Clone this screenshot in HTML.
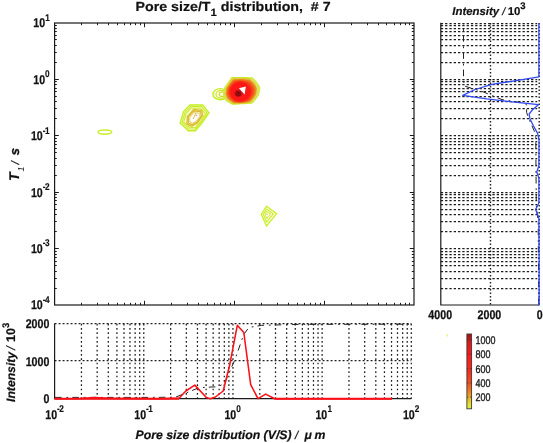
<!DOCTYPE html>
<html lang="en"><head><meta charset="utf-8"><title>Pore size/T1 distribution, # 7</title>
<style>html,body{margin:0;padding:0;background:#fff;}body{width:543px;height:443px;overflow:hidden;}svg{display:block;}text{font-family:"Liberation Sans",sans-serif;fill:#111;stroke:#111;stroke-width:0.2px;text-rendering:geometricPrecision;}.tk{font-size:12.7px;font-weight:bold;stroke-width:0.25px;}.sup{font-size:9.8px;font-weight:bold;stroke-width:0.15px;}.ax{stroke:#1a1a1a;stroke-width:1.2;fill:none;}.t{stroke:#1a1a1a;stroke-width:1;fill:none;}.gv{stroke:#1c1c1c;stroke-width:1.25;fill:none;stroke-dasharray:1.7 2.63;}.gv2{stroke:#1c1c1c;stroke-width:1.4;fill:none;stroke-dasharray:1.6 1.9;}.gh{stroke:#1c1c1c;stroke-width:1.25;fill:none;stroke-dasharray:1.9 2.1;}.gh2{stroke:#1c1c1c;stroke-width:1.25;fill:none;stroke-dasharray:2.3 2;}.dd{stroke:#222;stroke-width:1;fill:none;stroke-dasharray:6.6 4.8 1.8 4.1;}</style></head><body>
<svg width="543" height="443" viewBox="0 0 543 443">
<defs>
<linearGradient id="cb" x1="0" y1="0" x2="0" y2="1"><stop offset="0" stop-color="#a01212"/><stop offset="0.12" stop-color="#e01818"/><stop offset="0.3" stop-color="#ff1818"/><stop offset="0.5" stop-color="#fb2a1c"/><stop offset="0.66" stop-color="#f2501e"/><stop offset="0.78" stop-color="#ee8422"/><stop offset="0.86" stop-color="#e8b424"/><stop offset="0.94" stop-color="#e8e02c"/><stop offset="1" stop-color="#d8f040"/></linearGradient>
<filter id="b1" x="-20%" y="-20%" width="140%" height="140%"><feGaussianBlur stdDeviation="0.36"/></filter>
</defs>
<rect x="0" y="0" width="543" height="443" fill="#fff"/>
<text transform="translate(135.5,11.3) scale(1.078,1)" x="0" y="0" style="font-size:13.2px;font-weight:bold;" xml:space="preserve">Pore size/T<tspan dy="4.4" style="font-size:10.5px">1</tspan><tspan dy="-4.4"> distribution,  # 7</tspan></text>
<g filter="url(#b1)">
<ellipse cx="220.3" cy="94.2" rx="7.3" ry="5.6" fill="#fafde0" stroke="#c4ee24" stroke-width="1.45"/>
<ellipse cx="221.3" cy="94.2" rx="5.3" ry="3.9" fill="none" stroke="#cce830" stroke-width="1.25"/>
<ellipse cx="222.5" cy="94.2" rx="3.3" ry="2.3" fill="none" stroke="#d8d440" stroke-width="1.1"/>
<polygon points="259.1,91.7 258.8,93.3 258.4,94.9 257.6,96.3 256.5,97.6 255.6,98.8 254.7,100.0 253.8,101.1 252.9,102.3 251.7,103.1 250.0,103.2 248.4,103.3 247.1,103.4 245.8,103.5 244.6,103.6 243.5,103.6 242.4,103.7 241.4,103.8 240.3,103.8 239.2,103.9 238.1,103.9 237.0,104.0 235.8,104.1 234.5,104.2 233.1,104.3 231.7,103.9 230.6,103.2 229.5,102.5 228.3,101.8 227.0,101.0 225.7,100.1 225.1,98.8 224.6,97.4 224.0,96.1 223.5,94.7 223.7,93.2 224.0,91.7 224.2,90.3 224.5,88.9 224.8,87.5 225.6,86.4 226.4,85.2 227.2,84.1 227.9,83.0 228.7,82.0 229.5,80.9 230.2,79.7 231.1,78.5 232.1,77.5 233.7,77.5 235.1,77.5 236.5,77.5 237.8,77.6 239.1,77.6 240.3,77.6 241.5,77.6 242.8,77.6 244.1,77.6 245.4,77.6 246.9,77.6 248.4,77.7 250.1,77.7 252.0,77.7 253.2,78.8 254.4,79.9 255.5,81.1 256.6,82.3 257.5,83.7 258.4,85.1 259.3,86.6 259.9,88.2 259.5,90.0" fill="#f4f8c8" stroke="#c6ee28" stroke-width="1.1" stroke-linejoin="round"/>
<polygon points="257.8,91.7 257.5,93.2 257.1,94.7 256.4,96.0 255.5,97.2 254.6,98.4 253.8,99.5 252.9,100.5 252.1,101.6 251.0,102.4 249.4,102.6 248.0,102.7 246.7,102.9 245.6,103.0 244.4,103.1 243.4,103.2 242.3,103.3 241.3,103.3 240.3,103.4 239.3,103.4 238.2,103.5 237.1,103.5 236.0,103.5 234.8,103.6 233.4,103.6 232.2,103.3 231.2,102.6 230.1,101.9 229.0,101.2 227.8,100.4 226.6,99.6 226.1,98.3 225.6,97.1 225.1,95.8 224.5,94.5 224.7,93.1 224.9,91.7 225.2,90.4 225.4,89.1 225.7,87.8 226.4,86.7 227.2,85.6 227.9,84.5 228.6,83.5 229.3,82.5 230.1,81.5 230.8,80.4 231.7,79.4 232.6,78.4 234.1,78.4 235.4,78.4 236.7,78.3 237.9,78.3 239.1,78.3 240.3,78.3 241.5,78.3 242.7,78.4 243.9,78.4 245.1,78.4 246.5,78.5 247.9,78.6 249.5,78.6 251.2,78.7 252.3,79.7 253.3,80.8 254.4,81.8 255.4,83.0 256.2,84.3 257.1,85.6 257.9,87.0 258.4,88.5 258.1,90.1" fill="none" stroke="#d8d830" stroke-width="1.1" stroke-linejoin="round"/>
<polygon points="256.5,91.7 256.2,93.1 256.0,94.5 255.3,95.7 254.5,96.9 253.7,97.9 252.9,99.0 252.1,100.0 251.3,101.0 250.4,101.8 248.9,102.0 247.6,102.2 246.5,102.4 245.3,102.5 244.3,102.6 243.3,102.8 242.3,102.8 241.3,102.9 240.3,103.0 239.3,103.0 238.3,103.0 237.3,103.0 236.2,103.0 235.0,103.0 233.8,103.0 232.7,102.6 231.7,102.0 230.7,101.3 229.6,100.6 228.6,99.9 227.5,99.1 227.0,97.9 226.5,96.7 226.0,95.5 225.6,94.3 225.7,93.0 225.9,91.7 226.1,90.5 226.3,89.2 226.6,88.0 227.2,86.9 227.9,85.9 228.6,84.9 229.2,84.0 229.9,83.0 230.7,82.1 231.4,81.1 232.2,80.1 233.1,79.3 234.5,79.2 235.7,79.1 236.9,79.1 238.1,79.0 239.2,79.0 240.3,79.0 241.4,79.0 242.5,79.1 243.7,79.1 244.9,79.2 246.1,79.3 247.4,79.4 248.8,79.5 250.4,79.7 251.4,80.6 252.4,81.5 253.4,82.6 254.3,83.6 255.1,84.8 255.8,86.1 256.5,87.3 257.0,88.8 256.8,90.3" fill="#e4a826" stroke="#e4a826" stroke-width="0.7" stroke-linejoin="round"/>
<polygon points="255.3,91.7 255.1,93.0 254.9,94.3 254.3,95.4 253.6,96.5 252.9,97.6 252.1,98.5 251.4,99.5 250.7,100.4 249.7,101.1 248.5,101.4 247.3,101.7 246.2,101.9 245.1,102.1 244.1,102.2 243.2,102.4 242.2,102.5 241.2,102.5 240.3,102.6 239.3,102.6 238.4,102.6 237.4,102.6 236.4,102.5 235.3,102.5 234.1,102.4 233.1,102.0 232.1,101.4 231.2,100.8 230.3,100.1 229.3,99.4 228.3,98.6 227.8,97.5 227.3,96.4 226.9,95.3 226.5,94.1 226.6,92.9 226.7,91.7 226.9,90.5 227.1,89.4 227.3,88.2 227.9,87.2 228.6,86.2 229.2,85.3 229.8,84.4 230.5,83.5 231.2,82.6 231.9,81.7 232.7,80.8 233.6,80.1 234.8,79.9 236.0,79.8 237.1,79.7 238.2,79.7 239.2,79.7 240.3,79.6 241.4,79.7 242.4,79.7 243.5,79.8 244.6,79.9 245.8,80.0 247.0,80.2 248.3,80.3 249.7,80.5 250.6,81.4 251.5,82.3 252.4,83.2 253.3,84.2 254.0,85.3 254.6,86.5 255.3,87.7 255.7,89.0 255.5,90.4" fill="#ea8420" stroke="#ea8420" stroke-width="0.7" stroke-linejoin="round"/>
<polygon points="254.2,91.7 254.1,92.9 253.8,94.1 253.3,95.2 252.7,96.2 252.1,97.2 251.4,98.1 250.7,99.0 250.0,99.9 249.2,100.6 248.0,100.9 247.0,101.2 245.9,101.5 245.0,101.7 244.0,101.9 243.1,102.0 242.1,102.1 241.2,102.2 240.3,102.2 239.4,102.3 238.4,102.2 237.5,102.2 236.5,102.1 235.5,102.0 234.4,101.8 233.4,101.5 232.6,100.9 231.7,100.3 230.8,99.7 229.9,99.0 229.1,98.2 228.6,97.2 228.1,96.1 227.7,95.1 227.4,94.0 227.4,92.8 227.5,91.7 227.6,90.6 227.8,89.5 228.1,88.4 228.6,87.4 229.2,86.5 229.8,85.6 230.4,84.7 231.0,83.9 231.7,83.1 232.4,82.3 233.2,81.5 234.0,80.8 235.1,80.6 236.2,80.5 237.3,80.4 238.3,80.3 239.3,80.2 240.3,80.2 241.3,80.3 242.3,80.3 243.3,80.4 244.4,80.5 245.4,80.7 246.5,80.9 247.7,81.1 249.0,81.4 249.9,82.1 250.7,83.0 251.5,83.8 252.3,84.8 253.0,85.8 253.6,86.9 254.1,88.0 254.5,89.2 254.4,90.5" fill="#ee681e" stroke="#ee681e" stroke-width="0.7" stroke-linejoin="round"/>
<polygon points="253.2,91.7 253.0,92.8 252.8,93.9 252.4,94.9 251.9,95.9 251.3,96.8 250.7,97.7 250.1,98.5 249.4,99.3 248.6,100.0 247.6,100.4 246.6,100.7 245.7,101.0 244.8,101.3 243.9,101.5 243.0,101.6 242.1,101.8 241.2,101.8 240.3,101.9 239.4,101.9 238.5,101.9 237.6,101.8 236.7,101.7 235.7,101.5 234.8,101.3 233.8,100.9 233.0,100.4 232.2,99.8 231.4,99.2 230.6,98.5 229.8,97.8 229.3,96.8 228.9,95.8 228.5,94.8 228.2,93.8 228.2,92.8 228.3,91.7 228.4,90.7 228.6,89.6 228.8,88.6 229.3,87.7 229.8,86.8 230.3,85.9 230.9,85.1 231.5,84.3 232.2,83.6 232.9,82.9 233.6,82.1 234.4,81.5 235.5,81.3 236.5,81.1 237.4,81.0 238.4,80.9 239.4,80.8 240.3,80.8 241.2,80.9 242.2,80.9 243.2,81.0 244.1,81.2 245.1,81.4 246.1,81.6 247.2,81.9 248.3,82.2 249.1,82.9 249.9,83.6 250.6,84.5 251.4,85.3 251.9,86.3 252.5,87.3 253.0,88.3 253.3,89.4 253.3,90.6" fill="#f2501c" stroke="#f2501c" stroke-width="0.7" stroke-linejoin="round"/>
<polygon points="252.1,91.7 252.0,92.7 251.8,93.7 251.4,94.7 251.0,95.6 250.5,96.5 250.0,97.3 249.4,98.1 248.8,98.8 248.0,99.4 247.2,99.9 246.3,100.3 245.4,100.6 244.6,100.9 243.7,101.1 242.9,101.3 242.0,101.4 241.2,101.5 240.3,101.5 239.4,101.5 238.6,101.5 237.7,101.4 236.8,101.2 236.0,101.0 235.1,100.8 234.2,100.4 233.4,99.9 232.7,99.3 232.0,98.7 231.2,98.0 230.6,97.3 230.1,96.4 229.7,95.6 229.4,94.6 229.1,93.7 229.0,92.7 229.1,91.7 229.2,90.7 229.3,89.8 229.5,88.8 229.9,87.9 230.4,87.1 230.9,86.3 231.5,85.5 232.0,84.8 232.7,84.1 233.4,83.4 234.1,82.8 234.9,82.3 235.8,82.0 236.7,81.8 237.6,81.6 238.5,81.5 239.4,81.4 240.3,81.4 241.2,81.4 242.1,81.5 243.0,81.6 243.9,81.8 244.8,82.0 245.7,82.3 246.7,82.6 247.6,83.0 248.4,83.6 249.1,84.3 249.8,85.1 250.4,85.9 250.9,86.7 251.4,87.7 251.8,88.6 252.1,89.6 252.1,90.7" fill="#f63c1a" stroke="#f63c1a" stroke-width="0.7" stroke-linejoin="round"/>
<polygon points="251.0,91.7 250.9,92.6 250.8,93.5 250.5,94.4 250.1,95.3 249.7,96.1 249.2,96.9 248.7,97.6 248.1,98.3 247.5,98.9 246.7,99.4 246.0,99.8 245.2,100.2 244.4,100.5 243.6,100.7 242.8,100.9 242.0,101.1 241.1,101.2 240.3,101.2 239.5,101.2 238.6,101.1 237.8,101.0 237.0,100.8 236.2,100.5 235.4,100.2 234.6,99.8 233.9,99.4 233.2,98.8 232.5,98.2 231.9,97.6 231.3,96.9 230.9,96.1 230.5,95.3 230.2,94.4 229.9,93.5 229.9,92.6 229.8,91.7 229.9,90.8 230.1,89.9 230.3,89.0 230.6,88.2 231.0,87.4 231.5,86.6 232.0,85.9 232.6,85.2 233.2,84.6 233.8,84.0 234.5,83.5 235.3,83.0 236.1,82.7 236.9,82.4 237.8,82.3 238.6,82.1 239.5,82.0 240.3,82.0 241.1,82.0 242.0,82.1 242.8,82.3 243.7,82.5 244.5,82.7 245.3,83.0 246.1,83.4 246.9,83.8 247.6,84.4 248.3,85.0 248.9,85.7 249.4,86.4 249.9,87.2 250.3,88.0 250.7,88.9 250.9,89.8 251.0,90.8" fill="#fb2818" stroke="#fb2818" stroke-width="0.7" stroke-linejoin="round"/>
<polygon points="250.1,91.7 250.1,92.6 249.9,93.4 249.7,94.2 249.4,95.0 249.1,95.8 248.6,96.5 248.2,97.2 247.6,97.8 247.0,98.4 246.4,98.9 245.7,99.4 245.0,99.8 244.2,100.1 243.5,100.4 242.7,100.6 241.9,100.8 241.1,100.9 240.3,100.9 239.5,100.9 238.7,100.8 237.9,100.6 237.1,100.4 236.4,100.1 235.6,99.8 234.9,99.4 234.2,98.9 233.6,98.4 233.0,97.8 232.4,97.2 232.0,96.5 231.5,95.8 231.2,95.0 230.9,94.2 230.7,93.4 230.5,92.6 230.5,91.7 230.5,90.8 230.7,90.0 230.9,89.2 231.2,88.4 231.5,87.6 232.0,86.9 232.4,86.2 233.0,85.6 233.6,85.0 234.2,84.5 234.9,84.0 235.6,83.6 236.4,83.3 237.1,83.0 237.9,82.8 238.7,82.6 239.5,82.5 240.3,82.5 241.1,82.5 241.9,82.6 242.7,82.8 243.5,83.0 244.2,83.3 245.0,83.6 245.7,84.0 246.4,84.5 247.0,85.0 247.6,85.6 248.2,86.2 248.6,86.9 249.1,87.6 249.4,88.4 249.7,89.2 249.9,90.0 250.1,90.8" fill="#ff1816" stroke="#ff1816" stroke-width="0.7" stroke-linejoin="round"/>
<ellipse cx="238.6" cy="93.2" rx="4.2" ry="3.6" fill="#d01212"/><circle cx="238.2" cy="93.8" r="2.7" fill="#8a0e0e"/>
<polygon points="238.9,88.2 245.8,86.4 244.6,94.5" fill="#fff"/>
</g>
<g filter="url(#b1)" fill="none">
<polygon points="190.0,105.0 202.7,105.0 209.0,112.7 202.7,122.2 195.5,130.7 188.2,130.7 180.1,123.0 183.7,111.3" stroke="#c4ee24" stroke-width="1.35" fill="#f8fcd8"/>
<polygon points="190.6,106.7 201.6,106.7 207.1,113.4 201.6,121.7 195.4,129.0 189.0,129.0 182.0,122.3 185.1,112.2" stroke="#caee2c" stroke-width="1.2"/>
<polygon points="191.1,108.2 200.6,108.2 205.4,114.0 200.6,121.2 195.2,127.5 189.8,127.5 183.7,121.8 186.4,113.0" stroke="#d2e838" stroke-width="1.1"/>
<polygon points="193.7,109.5 201.8,110.4 202.7,115.4 197.3,123.0 191.9,126.2 186.9,124.0 187.3,116.8" stroke="#dac030" stroke-width="1.3" fill="#f8efc0"/>
<polygon points="193.8,110.9 200.6,111.7 201.3,115.8 196.8,122.2 192.3,124.8 188.2,123.0 188.5,117.0" stroke="#dab82c" stroke-width="1.1"/>
<polygon points="194.0,112.7 199.0,113.3 199.6,116.4 196.2,121.1 192.9,123.1 189.8,121.7 190.0,117.3" stroke="#e2cc5c" stroke-width="0.8" fill="#fff"/>
<path d="M193.2,119 L195.8,113" stroke="#e0c24a" stroke-width="1"/>
<circle cx="196.4" cy="115.4" r="0.8" fill="#f0a090" stroke="none"/>
</g>
<g filter="url(#b1)" fill="none"><ellipse cx="104.9" cy="132.1" rx="6.8" ry="2.1" stroke="#c8ee28" stroke-width="1.4"/></g>
<g filter="url(#b1)" fill="none">
<polygon points="266.5,206.3 276.6,213.7 266.5,225.9 261.4,214.2" stroke="#c8f028" stroke-width="1.35"/>
<polygon points="266.7,209.0 273.3,213.9 266.7,222.0 263.3,214.2" stroke="#ccf030" stroke-width="1.2"/>
<polygon points="266.8,211.4 270.5,214.1 266.8,218.5 265.0,214.3" stroke="#d6ea3c" stroke-width="1.1"/>
<circle cx="267" cy="214.2" r="0.8" fill="#e8c040" stroke="none"/>
</g>
<rect class="ax" x="54.6" y="23.0" width="359.4" height="282.0"/>
<path class="t" d="M81.50,305.0v-2.2M81.50,23.0v2.2M97.50,305.0v-2.2M97.50,23.0v2.2M108.50,305.0v-2.2M108.50,23.0v2.2M117.50,305.0v-2.2M117.50,23.0v2.2M124.50,305.0v-2.2M124.50,23.0v2.2M130.50,305.0v-2.2M130.50,23.0v2.2M135.50,305.0v-2.2M135.50,23.0v2.2M140.50,305.0v-2.2M140.50,23.0v2.2M144.50,305.0v-4.2M144.50,23.0v4.2M171.50,305.0v-2.2M171.50,23.0v2.2M187.50,305.0v-2.2M187.50,23.0v2.2M198.50,305.0v-2.2M198.50,23.0v2.2M207.50,305.0v-2.2M207.50,23.0v2.2M214.50,305.0v-2.2M214.50,23.0v2.2M220.50,305.0v-2.2M220.50,23.0v2.2M225.50,305.0v-2.2M225.50,23.0v2.2M230.50,305.0v-2.2M230.50,23.0v2.2M234.50,305.0v-4.2M234.50,23.0v4.2M261.50,305.0v-2.2M261.50,23.0v2.2M277.50,305.0v-2.2M277.50,23.0v2.2M288.50,305.0v-2.2M288.50,23.0v2.2M297.50,305.0v-2.2M297.50,23.0v2.2M304.50,305.0v-2.2M304.50,23.0v2.2M310.50,305.0v-2.2M310.50,23.0v2.2M315.50,305.0v-2.2M315.50,23.0v2.2M320.50,305.0v-2.2M320.50,23.0v2.2M324.50,305.0v-4.2M324.50,23.0v4.2M351.50,305.0v-2.2M351.50,23.0v2.2M367.50,305.0v-2.2M367.50,23.0v2.2M378.50,305.0v-2.2M378.50,23.0v2.2M386.50,305.0v-2.2M386.50,23.0v2.2M394.50,305.0v-2.2M394.50,23.0v2.2M400.50,305.0v-2.2M400.50,23.0v2.2M405.50,305.0v-2.2M405.50,23.0v2.2M409.50,305.0v-2.2M409.50,23.0v2.2M54.6,288.50h2.2M414.0,288.50h-2.2M54.6,278.50h2.2M414.0,278.50h-2.2M54.6,271.50h2.2M414.0,271.50h-2.2M54.6,265.50h2.2M414.0,265.50h-2.2M54.6,261.50h2.2M414.0,261.50h-2.2M54.6,257.50h2.2M414.0,257.50h-2.2M54.6,254.50h2.2M414.0,254.50h-2.2M54.6,251.50h2.2M414.0,251.50h-2.2M54.6,248.50h4.2M414.0,248.50h-4.2M54.6,231.50h2.2M414.0,231.50h-2.2M54.6,221.50h2.2M414.0,221.50h-2.2M54.6,214.50h2.2M414.0,214.50h-2.2M54.6,209.50h2.2M414.0,209.50h-2.2M54.6,204.50h2.2M414.0,204.50h-2.2M54.6,200.50h2.2M414.0,200.50h-2.2M54.6,197.50h2.2M414.0,197.50h-2.2M54.6,194.50h2.2M414.0,194.50h-2.2M54.6,192.50h4.2M414.0,192.50h-4.2M54.6,175.50h2.2M414.0,175.50h-2.2M54.6,165.50h2.2M414.0,165.50h-2.2M54.6,158.50h2.2M414.0,158.50h-2.2M54.6,152.50h2.2M414.0,152.50h-2.2M54.6,148.50h2.2M414.0,148.50h-2.2M54.6,144.50h2.2M414.0,144.50h-2.2M54.6,141.50h2.2M414.0,141.50h-2.2M54.6,138.50h2.2M414.0,138.50h-2.2M54.6,135.50h4.2M414.0,135.50h-4.2M54.6,118.50h2.2M414.0,118.50h-2.2M54.6,108.50h2.2M414.0,108.50h-2.2M54.6,101.50h2.2M414.0,101.50h-2.2M54.6,96.50h2.2M414.0,96.50h-2.2M54.6,91.50h2.2M414.0,91.50h-2.2M54.6,88.50h2.2M414.0,88.50h-2.2M54.6,84.50h2.2M414.0,84.50h-2.2M54.6,81.50h2.2M414.0,81.50h-2.2M54.6,79.50h4.2M414.0,79.50h-4.2M54.6,62.50h2.2M414.0,62.50h-2.2M54.6,52.50h2.2M414.0,52.50h-2.2M54.6,45.50h2.2M414.0,45.50h-2.2M54.6,39.50h2.2M414.0,39.50h-2.2M54.6,35.50h2.2M414.0,35.50h-2.2M54.6,31.50h2.2M414.0,31.50h-2.2M54.6,28.50h2.2M414.0,28.50h-2.2M54.6,25.50h2.2M414.0,25.50h-2.2"/>
<text class="tk" transform="translate(45.1,27.3) scale(0.84,1)" text-anchor="end">10</text><text class="sup" transform="translate(45.3,20.7) scale(0.84,1)">1</text>
<text class="tk" transform="translate(45.1,83.7) scale(0.84,1)" text-anchor="end">10</text><text class="sup" transform="translate(45.1,77.1) scale(0.84,1)">0</text>
<text class="tk" transform="translate(42.8,140.1) scale(0.84,1)" text-anchor="end">10</text><text class="sup" transform="translate(42.8,133.5) scale(0.84,1)" letter-spacing="-0.6">-1</text>
<text class="tk" transform="translate(42.8,196.5) scale(0.84,1)" text-anchor="end">10</text><text class="sup" transform="translate(42.8,189.9) scale(0.84,1)" letter-spacing="-0.6">-2</text>
<text class="tk" transform="translate(42.8,252.9) scale(0.84,1)" text-anchor="end">10</text><text class="sup" transform="translate(42.8,246.3) scale(0.84,1)" letter-spacing="-0.6">-3</text>
<text class="tk" transform="translate(42.8,309.3) scale(0.84,1)" text-anchor="end">10</text><text class="sup" transform="translate(42.8,302.7) scale(0.84,1)" letter-spacing="-0.6">-4</text>
<text transform="translate(18.6,181.1) rotate(-90)" style="font-size:14px;font-weight:bold;font-style:italic;" xml:space="preserve">T<tspan x="9.6" dy="5.7" style="font-size:8.8px;font-weight:normal;stroke:none">1</tspan><tspan x="16.9" dy="-5.7" style="font-size:11px;font-weight:normal">/</tspan><tspan x="25.8" style="font-size:13px;stroke-width:0.35px">s</tspan></text>
<path class="gv" d="M81.44,323.7V398.7M97.15,323.7V398.7M108.29,323.7V398.7M116.93,323.7V398.7M123.99,323.7V398.7M129.96,323.7V398.7M135.13,323.7V398.7M139.69,323.7V398.7M143.78,323.7V398.7M170.62,323.7V398.7M186.32,323.7V398.7M197.46,323.7V398.7M206.11,323.7V398.7M213.17,323.7V398.7M219.14,323.7V398.7M224.31,323.7V398.7M228.87,323.7V398.7M232.95,323.7V398.7M259.79,323.7V398.7M275.50,323.7V398.7M286.64,323.7V398.7M295.28,323.7V398.7M302.34,323.7V398.7M308.31,323.7V398.7M313.48,323.7V398.7M318.04,323.7V398.7M322.12,323.7V398.7M348.97,323.7V398.7M364.67,323.7V398.7M375.81,323.7V398.7M384.46,323.7V398.7M391.52,323.7V398.7M397.49,323.7V398.7M402.66,323.7V398.7M407.22,323.7V398.7M411.30,323.7V398.7"/>
<path class="gh" d="M54.6,323.7H411.3M54.6,360.6H411.3"/>
<path class="ax" d="M54.6,323.4V398.7H411.3"/>
<polyline class="dd" points="55.0,397.4 150.0,397.4 175.5,397.2 191.0,391.0 198.7,387.7 218.0,386.7 224.5,383.3 234.8,360.0 243.8,334.3 249.0,327.4 261.8,325.3 299.0,324.4 411.0,324.2"/>
<polyline points="54.6,398.7 80.0,398.4 95.0,397.6 110.0,398.3 160.0,398.7 179.3,398.0 185.8,391.0 194.8,385.1 206.4,397.5 210.3,398.7 215.4,397.0 223.2,391.0 229.6,365.3 237.3,325.3 243.8,332.5 250.7,384.6 258.0,398.7 265.7,394.1 274.7,398.7 392.0,398.7" fill="none" stroke="#fb1018" stroke-width="1.55" stroke-linejoin="round"/>
<path d="M54.6,398.7H179M274.7,398.7H392" stroke="#fb1018" stroke-width="2" fill="none"/>
<text class="tk" transform="translate(49.4,328.3) scale(0.84,1)" text-anchor="end">2000</text>
<text class="tk" transform="translate(49.4,365.8) scale(0.84,1)" text-anchor="end">1000</text>
<text class="tk" transform="translate(49.4,403.3) scale(0.84,1)" text-anchor="end">0</text>
<text class="tk" transform="translate(57.1,418.5) scale(0.84,1)" text-anchor="end">10</text><text class="sup" transform="translate(57.1,411.9) scale(0.84,1)" letter-spacing="-0.6">-2</text>
<text class="tk" transform="translate(146.1,418.5) scale(0.84,1)" text-anchor="end">10</text><text class="sup" transform="translate(146.1,411.9) scale(0.84,1)" letter-spacing="-0.6">-1</text>
<text class="tk" transform="translate(236.3,418.5) scale(0.84,1)" text-anchor="end">10</text><text class="sup" transform="translate(236.3,411.9) scale(0.84,1)">0</text>
<text class="tk" transform="translate(327.3,418.5) scale(0.84,1)" text-anchor="end">10</text><text class="sup" transform="translate(327.5,411.9) scale(0.84,1)">1</text>
<text class="tk" transform="translate(414.8,418.5) scale(0.84,1)" text-anchor="end">10</text><text class="sup" transform="translate(414.8,411.9) scale(0.84,1)">2</text>
<text transform="translate(15.2,402) rotate(-90)" style="font-size:12.2px;font-weight:bold;font-style:italic;" xml:space="preserve">Intensity<tspan dx="2.2" style="font-weight:normal">/</tspan><tspan dx="4.4" style="font-style:normal;font-size:12.6px">10</tspan><tspan dy="-6.4" style="font-size:9.5px;font-style:normal">3</tspan></text>
<text x="135.5" y="438.8" style="font-size:12.27px;font-weight:bold;font-style:italic;" xml:space="preserve">Pore size distribution (V/S) <tspan style="font-weight:normal;font-size:11.5px">/</tspan><tspan dx="6.4">μ</tspan><tspan dx="2.6">m</tspan></text>
<path class="gh2" d="M440.8,288.50H537.2M440.8,278.50H537.2M440.8,271.50H537.2M440.8,265.50H537.2M440.8,261.50H537.2M440.8,257.50H537.2M440.8,254.50H537.2M440.8,251.50H537.2M440.8,248.50H537.2M440.8,231.50H537.2M440.8,221.50H537.2M440.8,214.50H537.2M440.8,209.50H537.2M440.8,204.50H537.2M440.8,200.50H537.2M440.8,197.50H537.2M440.8,194.50H537.2M440.8,192.50H537.2M440.8,175.50H537.2M440.8,165.50H537.2M440.8,158.50H537.2M440.8,152.50H537.2M440.8,148.50H537.2M440.8,144.50H537.2M440.8,141.50H537.2M440.8,138.50H537.2M440.8,135.50H537.2M440.8,118.50H537.2M440.8,108.50H537.2M440.8,101.50H537.2M440.8,96.50H537.2M440.8,91.50H537.2M440.8,88.50H537.2M440.8,84.50H537.2M440.8,81.50H537.2M440.8,79.50H537.2M440.8,62.50H537.2M440.8,52.50H537.2M440.8,45.50H537.2M440.8,39.50H537.2M440.8,35.50H537.2M440.8,31.50H537.2M440.8,28.50H537.2M440.8,25.50H537.2M440.8,23.50H537.2"/>
<path class="gv2" d="M490.5,23.0V305.0M539.2,23.0V305.0"/>
<path class="ax" d="M440.8,22.7V305.0H539.2"/>
<polyline class="dd" stroke-dashoffset="5.3" points="463.5,23.0 463.5,80.0 464.3,86.0 470.0,87.8 483.5,92.0 502.0,99.6 520.7,102.5 526.6,104.7 526.6,112.3 528.3,117.4 534.2,130.9 535.8,137.7 536.0,170.0 536.3,205.0 538.2,222.0 538.8,305.0"/>
<polyline points="538.9,23.0 538.9,76.8 520.7,79.8 491.9,84.4 475.0,89.5 462.8,95.4 486.8,98.8 512.2,101.8 538.4,104.7 532.5,109.8 529.1,114.0 530.0,119.0 533.4,125.8 537.6,133.4 539.0,139.4 538.9,166.0 536.7,172.0 538.9,178.0 538.9,203.0 535.6,209.4 538.9,218.0 539.1,260.0 539.1,305.5" fill="none" stroke="#3048f0" stroke-width="1.3" stroke-linejoin="round"/>
<text class="tk" transform="translate(440.2,318.7) scale(0.84,1)" text-anchor="middle">4000</text>
<text class="tk" transform="translate(489.4,318.7) scale(0.84,1)" text-anchor="middle">2000</text>
<text class="tk" transform="translate(539.6,318.7) scale(0.84,1)" text-anchor="middle">0</text>
<text x="452.3" y="14.8" style="font-size:11.4px;font-weight:bold;font-style:italic;" xml:space="preserve">Intensity <tspan style="font-weight:normal;font-size:10.8px">/</tspan><tspan x="507.7" style="font-style:normal">10</tspan><tspan dy="-6" style="font-size:9.6px;font-style:normal">3</tspan></text>
<rect x="466.9" y="334" width="4.7" height="74.8" fill="url(#cb)" stroke="#3a3a3a" stroke-width="0.9"/>
<text transform="translate(475.6,343.8) scale(0.8,1)" style="font-size:11.2px;font-weight:normal;fill:#1a1a1a;stroke:#1a1a1a;stroke-width:0.35px">1000</text>
<path d="M466.9,339.7h1.4M471.6,339.7h-1.4" stroke="#3a2a2a" stroke-width="0.7"/>
<text transform="translate(475.6,358.2) scale(0.8,1)" style="font-size:11.2px;font-weight:normal;fill:#1a1a1a;stroke:#1a1a1a;stroke-width:0.35px">800</text>
<path d="M466.9,354.2h1.4M471.6,354.2h-1.4" stroke="#3a2a2a" stroke-width="0.7"/>
<text transform="translate(475.6,372.7) scale(0.8,1)" style="font-size:11.2px;font-weight:normal;fill:#1a1a1a;stroke:#1a1a1a;stroke-width:0.35px">600</text>
<path d="M466.9,368.6h1.4M471.6,368.6h-1.4" stroke="#3a2a2a" stroke-width="0.7"/>
<text transform="translate(475.6,386.9) scale(0.8,1)" style="font-size:11.2px;font-weight:normal;fill:#1a1a1a;stroke:#1a1a1a;stroke-width:0.35px">400</text>
<path d="M466.9,382.9h1.4M471.6,382.9h-1.4" stroke="#3a2a2a" stroke-width="0.7"/>
<text transform="translate(475.6,401.2) scale(0.8,1)" style="font-size:11.2px;font-weight:normal;fill:#1a1a1a;stroke:#1a1a1a;stroke-width:0.35px">200</text>
<path d="M466.9,397.1h1.4M471.6,397.1h-1.4" stroke="#3a2a2a" stroke-width="0.7"/>
<rect x="446.6" y="334.4" width="1.2" height="2" fill="#d8f060"/>
</svg></body></html>
